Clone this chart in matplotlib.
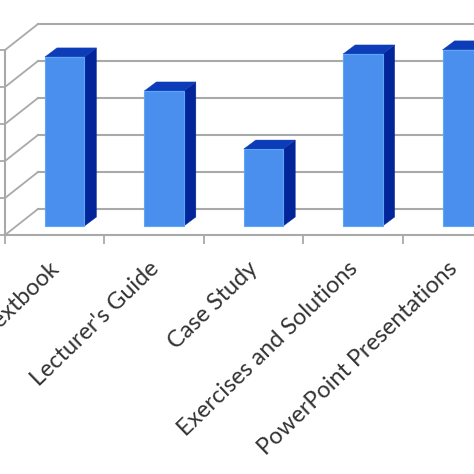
import numpy as np
import matplotlib.pyplot as plt
from matplotlib.patches import Polygon
from matplotlib.transforms import ScaledTranslation

categories = ['Textbook', "Lecturer's Guide", 'Case Study', 'Exercises and Solutions', 'PowerPoint Presentations']
ratings = [4.57, 3.65, 2.08, 4.65, 4.76]
rating_ticks = [0, 1, 2, 3, 4, 5]

FRONT = '#4a8fee'
SIDE = '#02269a'
TOP = '#0d3cb8'
GRID = '#a9a9a9'

# one category is 99.4 px wide, one rating step is 37 px high
PX_X = 1 / 99.4
PX_Y = 1 / 37


def draw_walls(ax):
    wall_dx, wall_dy = 33 * PX_X, 26 * PX_Y
    x_left = -0.5
    x_right = ax.get_xlim()[1]
    for tick in rating_ticks:
        ax.plot([x_left, x_left + wall_dx], [tick, tick + wall_dy], color=GRID, lw=1.3, zorder=1, clip_on=False)
        ax.plot([x_left + wall_dx, x_right], [tick + wall_dy, tick + wall_dy], color=GRID, lw=1.5, zorder=1)


def draw_bars(ax):
    width = 39.5 * PX_X
    depth_x, depth_y = 12 * PX_X, 9 * PX_Y
    shift_x, base = 10 * PX_X, 9 * PX_Y
    for pos, value in enumerate(ratings):
        left = pos + shift_x - width / 2
        right = left + width
        top = base + value
        ax.bar(left, value, width=width, bottom=base, align='edge', color=FRONT, edgecolor='#5ca6f7', lw=0.8, zorder=3)
        ax.add_patch(Polygon([(right, base), (right + depth_x, base + depth_y), (right + depth_x, top + depth_y), (right, top)],
                             closed=True, facecolor=SIDE, edgecolor=SIDE, lw=0.3, zorder=2))
        ax.add_patch(Polygon([(left, top), (left + depth_x, top + depth_y), (right + depth_x, top + depth_y), (right, top)],
                             closed=True, facecolor=TOP, edgecolor=TOP, lw=0.3, zorder=2))


def main():
    fig = plt.figure(figsize=(4.74, 4.74), dpi=100)
    ax = fig.add_axes([5 / 474, 239 / 474, 469 / 474, 235 / 474])
    ax.set_xlim(-0.5, -0.5 + 469 * PX_X)
    ax.set_ylim(0, 235 * PX_Y)

    draw_walls(ax)
    draw_bars(ax)

    for side in ['top', 'right']:
        ax.spines[side].set_visible(False)
    for side in ['left', 'bottom']:
        ax.spines[side].set_color(GRID)
        ax.spines[side].set_linewidth(1.5)
    ax.spines['left'].set_bounds(0, 5)

    ax.set_yticks(rating_ticks)
    ax.set_yticklabels([])
    ax.tick_params(axis='y', length=4, width=1.3, color=GRID)

    # ticks sit between the categories, labels under the categories
    ax.set_xticks(np.arange(len(categories)) - 0.5)
    ax.set_xticklabels([])
    ax.tick_params(axis='x', which='major', length=6.5, width=1.3, color=GRID)
    ax.set_xticks(np.arange(len(categories)), minor=True)
    ax.set_xticklabels(categories, minor=True, rotation=44, ha='right', rotation_mode='anchor',
                       fontsize=16.8, family='Lato', color='#333333')
    ax.tick_params(axis='x', which='minor', length=0, pad=18)
    nudge = ScaledTranslation(-6 / 100, 2 / 100, fig.dpi_scale_trans)
    for label in ax.get_xticklabels(minor=True):
        label.set_transform(label.get_transform() + nudge)

    fig.savefig('out.png', dpi=100)


if __name__ == '__main__':
    main()
